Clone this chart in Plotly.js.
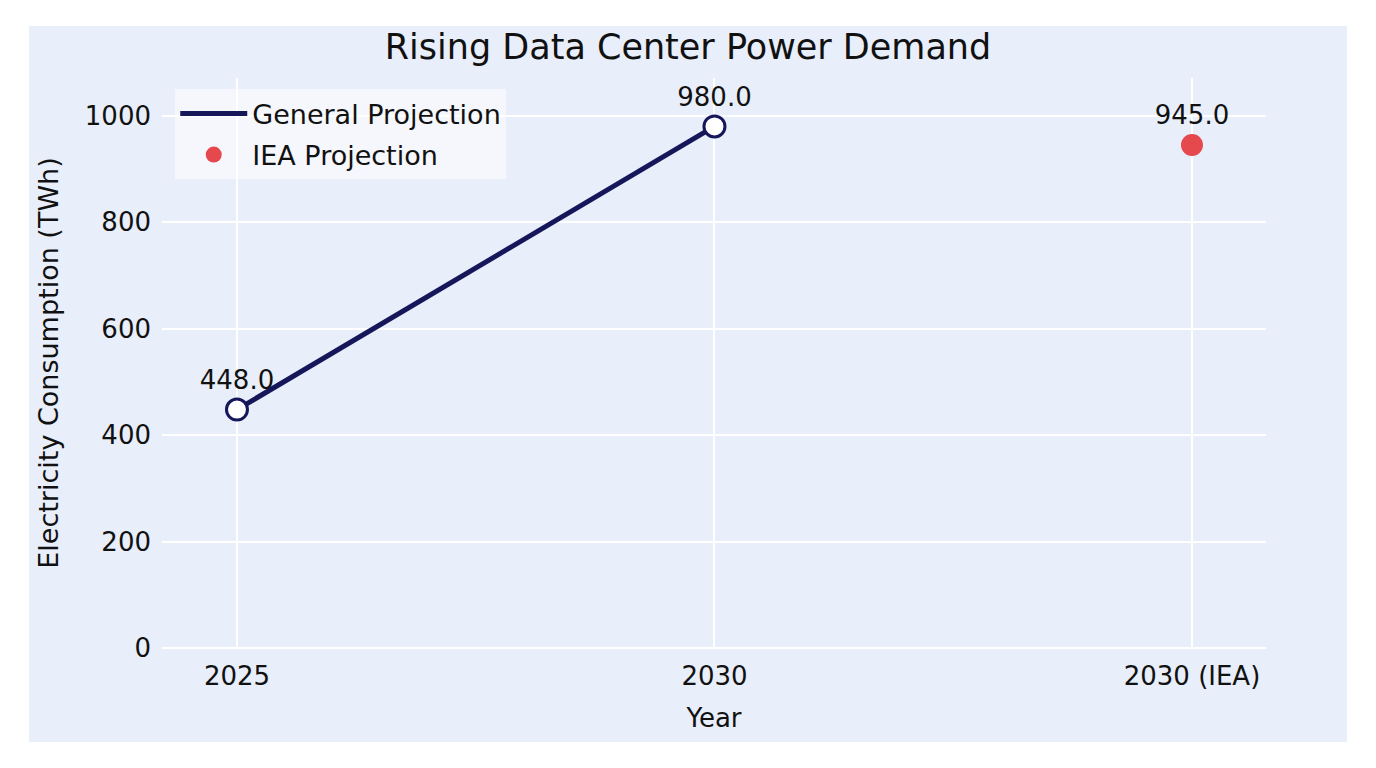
<!DOCTYPE html>
<html>
<head>
<meta charset="utf-8">
<script src="https://cdn.plot.ly/plotly-3.0.1.min.js"></script>
<style>
  html, body { margin: 0; padding: 0; background: #ffffff; }
  #chart { position: absolute; left: 29px; top: 26px; width: 1318px; height: 716px; }
</style>
</head>
<body>
<div id="chart"></div>
<script>
// Data center electricity demand (TWh)
const generalYears = ['2025', '2030'];
const generalValues = [448.0, 980.0];
const ieaYears = ['2030 (IEA)'];
const ieaValues = [945.0];
const categoryOrder = ['2025', '2030', '2030 (IEA)'];
const yTicks = [0, 200, 400, 600, 800, 1000];

const fontFamily = 'DejaVu Sans, sans-serif';
const navy = '#15175a';
const red = '#e5484d';
const textColor = '#111111';

// Projection line (legend entry shows the line only)
const generalLine = {
  x: generalYears,
  y: generalValues,
  name: 'General Projection',
  legendgroup: 'general',
  type: 'scatter',
  mode: 'lines',
  line: { color: navy, width: 5 }
};

// Open markers and value labels on the projection line
const generalPoints = {
  x: generalYears,
  y: generalValues,
  name: 'General Projection',
  legendgroup: 'general',
  showlegend: false,
  type: 'scatter',
  mode: 'markers+text',
  marker: { size: 21, color: '#ffffff', line: { color: navy, width: 3 } },
  text: generalValues.map(v => v.toFixed(1)),
  textposition: 'top center',
  textfont: { family: fontFamily, size: 26, color: textColor },
  cliponaxis: false
};

const iea = {
  x: ieaYears,
  y: ieaValues,
  name: 'IEA Projection',
  legendgroup: 'iea',
  type: 'scatter',
  mode: 'markers+text',
  marker: { size: 22, color: red },
  text: ieaValues.map(v => v.toFixed(1)),
  textposition: 'top center',
  textfont: { family: fontFamily, size: 26, color: textColor },
  cliponaxis: false
};

const layout = {
  width: 1318,
  height: 716,
  paper_bgcolor: '#e8eefa',
  plot_bgcolor: '#e8eefa',
  font: { family: fontFamily, size: 26, color: textColor },
  margin: { l: 133, r: 81, t: 52, b: 94, autoexpand: false },
  title: {
    text: 'Rising Data Center Power Demand',
    font: { family: fontFamily, size: 35, color: textColor },
    x: 0.5, xref: 'container', xanchor: 'center',
    y: 0.971, yref: 'container', yanchor: 'middle'
  },
  xaxis: {
    type: 'category',
    categoryorder: 'array',
    categoryarray: categoryOrder,
    range: [-0.157, 2.155],
    showgrid: true,
    gridcolor: '#ffffff',
    gridwidth: 2,
    zeroline: false,
    showline: false,
    ticks: '',
    ticklabelstandoff: 10,
    tickfont: { family: fontFamily, size: 26, color: textColor },
    title: { text: 'Year', font: { family: fontFamily, size: 26, color: textColor }, standoff: 18 }
  },
  yaxis: {
    range: [0, 1071],
    tickvals: yTicks,
    ticktext: yTicks.map(String),
    showgrid: true,
    gridcolor: '#ffffff',
    gridwidth: 2,
    zeroline: true,
    zerolinecolor: '#ffffff',
    zerolinewidth: 2,
    showline: false,
    ticks: '',
    ticklabelstandoff: 10,
    tickfont: { family: fontFamily, size: 26, color: textColor },
    title: { text: 'Electricity Consumption (TWh)', font: { family: fontFamily, size: 27, color: textColor }, standoff: 18 }
  },
  legend: {
    x: 0.012, y: 0.98, xanchor: 'left', yanchor: 'top',
    bgcolor: 'rgba(255,255,255,0.55)',
    borderwidth: 0,
    font: { family: fontFamily, size: 27, color: textColor },
    itemwidth: 67,
    tracegroupgap: 3
  },
  showlegend: true
};

Plotly.newPlot('chart', [generalLine, generalPoints, iea], layout, { displayModeBar: false, staticPlot: true });
</script>
</body>
</html>
